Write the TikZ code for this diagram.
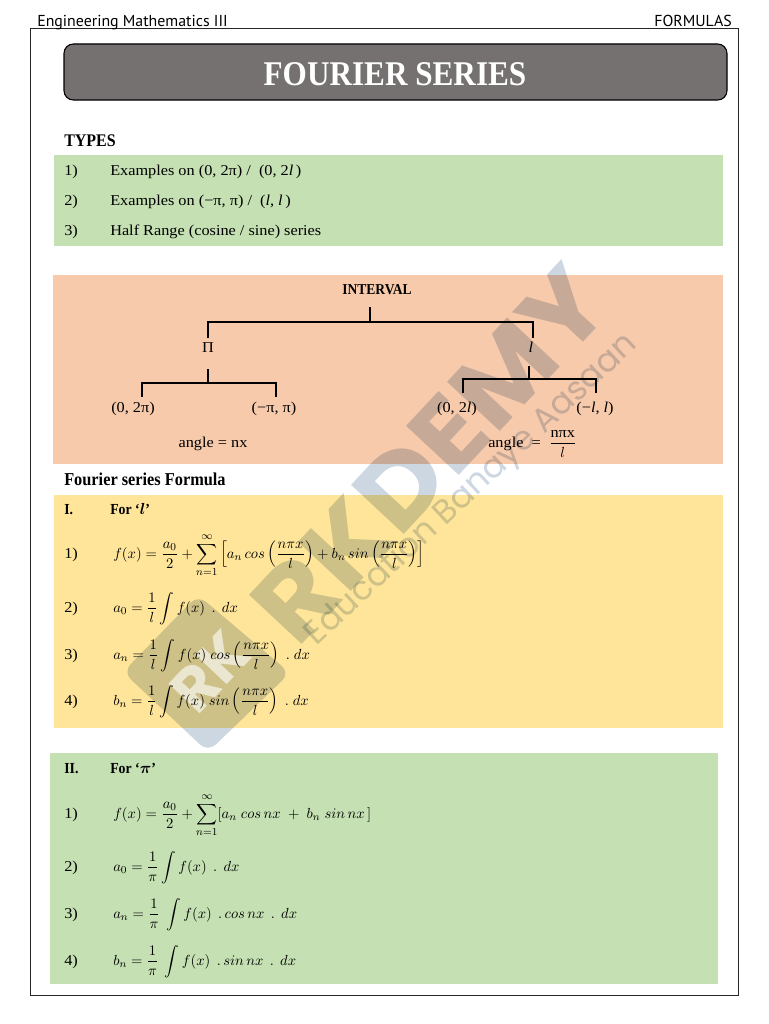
\documentclass[tikz,border=0pt]{standalone}
\usepackage{amsmath}
\usepackage{fontspec}
\setmainfont[FakeStretch=1.08]{Liberation Serif}
\newfontfamily\narrowfont[FakeStretch=0.9]{Liberation Serif}
\newfontfamily\headfont{PT Sans}
\newfontfamily\wmbold{Poppins}
\definecolor{grn}{HTML}{C5E0B3}
\definecolor{pch}{HTML}{F7CAAC}
\definecolor{ylw}{HTML}{FFE599}
\definecolor{ttl}{HTML}{767171}
\definecolor{wm}{RGB}{205,215,225}
\tikzset{
  band/.style={fill=#1,draw=none},
  lbl/.style={anchor=base west,inner sep=0pt,font=\fontsize{11.3}{13}\selectfont,text=black},
  mth/.style={anchor=base west,inner sep=0pt,font=\fontsize{10.95}{13}\selectfont,text=black},
  mid/.style={anchor=base,inner sep=0pt,font=\fontsize{11.3}{13}\selectfont,text=black},
  tree/.style={draw=black,line width=1pt},
  head/.style={anchor=base west,inner sep=0pt,font=\headfont\fontsize{11.9}{13}\selectfont},
  bld/.style={lbl,font=\narrowfont\bfseries\fontsize{11.5}{13}\selectfont},
  wmark/.style={blend mode=multiply}
}
\newcommand{\fcos}{cos\,}
\newcommand{\fsin}{sin\,}
\begin{document}
\begin{tikzpicture}[x=0.75pt,y=-0.75pt]
\useasboundingbox (0,0) rectangle (768,1024);
\fill[white] (0,0) rectangle (768,1024);
\draw[line width=0.7pt,black!85] (30,28) rectangle (738,995);
\draw[black,fill=ttl,line width=0.8pt,rounded corners=7pt] (64,44) rectangle (727,100);
\fill[band=grn] (54,155) rectangle (723,246);
\fill[band=pch] (53,275) rectangle (723,464);
\fill[band=ylw] (54,495) rectangle (723,728);
\fill[band=grn] (50,753) rectangle (718,984);
% watermark
\begin{scope}[wmark]
\fill[wm,rounded corners=8pt] (198,595) -- (290,673) -- (208,752) -- (123,672) -- cycle;
\node[text=wm,rotate=47,font=\wmbold\bfseries\fontsize{77}{77}\selectfont,inner sep=0pt,xscale=1.08] (wmbrand) at (430,454) {RKDEMY};
\node[text=wm,rotate=43,font=\wmbold\fontsize{25}{25}\selectfont,inner sep=0pt] (wmtag) at (472,490) {Education Banaye Aasaan};
\end{scope}
\node[text=white,opacity=0.6,rotate=46.5,font=\wmbold\bfseries\fontsize{46}{46}\selectfont,inner sep=0pt] (wmlogo) at (210,672) {RK};
% header
\node[head] (h1) at (37,27) {Engineering Mathematics III};
\node[head,anchor=base east] (h2) at (732,27) {FORMULAS};
\node[inner sep=0pt,text=white,font=\narrowfont\bfseries\fontsize{26}{28}\selectfont] (title) at (395,74) {FOURIER SERIES};
\node[lbl,font=\narrowfont\bfseries\fontsize{13.3}{15}\selectfont] (types) at (64,146) {TYPES};
\node[lbl] (t1n) at (64,175) {1)};
\node[lbl] (t1) at (110,175) {Examples on (0, 2π) / \ (0, 2\textit{l}\,)};
\node[lbl] (t2n) at (64,205) {2)};
\node[lbl] (t2) at (110,205) {Examples on (−π, π) / \ (\textit{l}, \textit{l}\,)};
\node[lbl] (t3n) at (64,235) {3)};
\node[lbl] (t3) at (110,235) {Half Range (cosine / sine) series};
% tree
\node[mid,font=\narrowfont\bfseries\fontsize{11.3}{13}\selectfont] (interval) at (377,294) {INTERVAL};
\coordinate (stem) at (370,307);
\coordinate (bar) at (370,322);
\node[mid] (pi) at (208,352) {Π};
\node[mid] (ell) at (531,352) {\textit{l}};
\coordinate (pidrop) at (208,338);
\coordinate (elldrop) at (533,338);
\draw[tree] (stem) -- (bar);
\draw[tree] (pidrop) |- (bar) -| (elldrop);
\coordinate (pistem) at (208,369);
\coordinate (pibar) at (208,383);
\coordinate (pia) at (142,397);
\coordinate (pib) at (276,397);
\draw[tree] (pistem) -- (pibar);
\draw[tree] (pia) |- (pibar) -| (pib);
\coordinate (lstem) at (529,366);
\coordinate (lbar) at (529,379);
\coordinate (la) at (463,393);
\coordinate (lb) at (596,393);
\draw[tree] (lstem) -- (lbar);
\draw[tree] (la) |- (lbar) -| (lb);
\node[mid] (a1) at (133,412) {(0, 2π)};
\node[mid] (a2) at (274,412) {(−π, π)};
\node[mid] (a3) at (457,412) {(0, 2\textit{l})};
\node[mid] (a4) at (595,412) {(−\textit{l}, \textit{l})};
\node[mid] (ang1) at (213,447) {angle = nx};
\node[lbl] (ang2) at (488,447) {angle \ = \ $\dfrac{\text{nπx}}{l}$};
\node[lbl,font=\narrowfont\bfseries\fontsize{13.6}{15}\selectfont] (fsf) at (64,485) {Fourier series Formula};
% I
\node[bld] (I) at (64,514) {I.};
\node[bld] (Ifor) at (110,514) {For ‘$\boldsymbol{l}$’};
\node[lbl] (i1n) at (64,558) {1)};
\node[mth] (i1) at (113,558) {$\displaystyle f(x)=\frac{a_0}{2}+\sum_{n=1}^{\infty}\left[a_n\,\fcos\!\left(\frac{n\pi x}{l}\right)+b_n\,\fsin\!\left(\frac{n\pi x}{l}\right)\right]$};
\node[lbl] (i2n) at (64,612) {2)};
\node[mth] (i2) at (113,612) {$\displaystyle a_0=\frac{1}{l}\int f(x)\ \,.\ \,dx$};
\node[lbl] (i3n) at (64,659) {3)};
\node[mth] (i3) at (113,659) {$\displaystyle a_n=\frac{1}{l}\int f(x)\ \fcos\!\left(\frac{n\pi x}{l}\right)\ .\ dx$};
\node[lbl] (i4n) at (64,705) {4)};
\node[mth] (i4) at (113,705) {$\displaystyle b_n=\frac{1}{l}\int f(x)\ \fsin\!\left(\frac{n\pi x}{l}\right)\ .\ dx$};
% II
\node[bld] (II) at (64,773) {II.};
\node[bld] (IIfor) at (110,773) {For ‘$\boldsymbol{\pi}$’};
\node[lbl] (j1n) at (64,818) {1)};
\node[mth] (j1) at (113,818) {$\displaystyle f(x)=\frac{a_0}{2}+\sum_{n=1}^{\infty}[a_n\;\fcos nx\;+\;b_n\;\fsin nx\,]$};
\node[lbl] (j2n) at (64,871) {2)};
\node[mth] (j2) at (113,871) {$\displaystyle a_0=\frac{1}{\pi}\int f(x)\ \,.\ \,dx$};
\node[lbl] (j3n) at (64,918) {3)};
\node[mth] (j3) at (113,918) {$\displaystyle a_n=\frac{1}{\pi}\ \int f(x)\ \,.\,\fcos nx\ \,.\ \,dx$};
\node[lbl] (j4n) at (64,965) {4)};
\node[mth] (j4) at (113,965) {$\displaystyle b_n=\frac{1}{\pi}\ \int f(x)\ \,.\,\fsin nx\ \,.\ \,dx$};
\end{tikzpicture}
\end{document}
